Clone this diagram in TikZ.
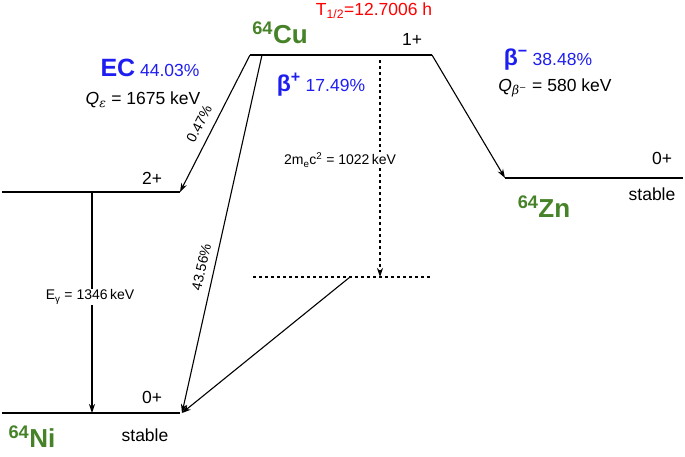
\documentclass[tikz,border=0pt]{standalone}
\usepackage{fontspec}
\setmainfont{Liberation Sans}
\usetikzlibrary{arrows.meta}
\definecolor{grn}{RGB}{70,130,40}
\definecolor{blu}{RGB}{30,30,240}
\newfontfamily\grk{DejaVu Serif}
\begin{document}
\begin{tikzpicture}[x=1pt,y=-1pt,
 lvl/.style={line width=2.2pt},
 tr/.style={-{Stealth[length=9pt,width=6pt]},line width=1.1pt},
 lab/.style={font=\fontsize{14}{16}\selectfont},
 big/.style={font=\fontsize{17.5}{20}\selectfont},
 nuc/.style={font=\fontsize{26}{28}\selectfont\bfseries,text=grn},
 pct/.style={font=\fontsize{17.5}{20}\selectfont,text=blu}]
\useasboundingbox (0,0) rectangle (685,456);
% levels
\coordinate (cuL) at (250,55); \coordinate (cuR) at (432,55);
\draw[lvl] (cuL) -- (cuR);
\draw[lvl] (2,192) -- (180,192); \coordinate (n2) at (180,192);
\draw[lvl] (2,413) -- (180,413); \coordinate (n0) at (182,413);
\draw[lvl] (505,178) -- (683,178); \coordinate (zn) at (505,178);
\draw[lvl,dashed,line width=1.6pt] (253,277) -- (432,277);
% transitions
\draw[tr] (cuL) -- (n2) node[pos=0.55,sloped,above=5pt,lab]{0.47\%};
\coordinate (c2) at (262,55);
\draw[tr] (c2) -- (n0) node[pos=0.6,sloped,above=4pt,lab]{43.56\%};
\draw[tr] (cuR) -- (zn);
\coordinate (dd) at (350,277);
\draw[tr] (dd) -- (n0);
\coordinate (g1) at (92,192); \coordinate (g2) at (92,413);
\draw[tr] (g1) -- (g2);
\node[fill=white,inner sep=1pt,lab] at (90,297) {E\textsubscript{γ} = 1346\,keV};
\coordinate (a1) at (380,60); \coordinate (a2) at (380,277);
\draw[tr,dashed] (a1) -- (a2);
\node[fill=white,inner sep=1pt,lab] at (340,160) {2m\textsubscript{e}c\textsuperscript{2} = 1022\,keV};
% labels
\node[nuc] (cu) at (280,33) {\textsuperscript{64}Cu};
\node[text=red,big] (t) at (374,11) {T\textsubscript{1/2}=12.7006 h};
\node[big] (s1) at (412,39) {1+};
\node[big] (s2) at (152,178) {2+};
\node[big] (s3) at (152,397) {0+};
\node[big] (s4) at (145,435) {stable};
\node[nuc] (ni) at (32,437) {\textsuperscript{64}Ni};
\node[big] (s5) at (662,158) {0+};
\node[big] (s6) at (652,194) {stable};
\node[nuc] (zz) at (544,207) {\textsuperscript{64}Zn};
\node[pct] (ec) at (150,68) {{\fontsize{25}{27}\selectfont\bfseries EC} 44.03\%};
\node[big] (qe) at (143,100) {\textit{Q}\textsubscript{\grk\itshape ε} = 1675 keV};
\node[pct] (bp) at (321,85) {{\fontsize{23}{25}\selectfont\bfseries β\textsuperscript{+}} 17.49\%};
\node[pct] (bm) at (548,60) {{\fontsize{23}{25}\selectfont\bfseries β\textsuperscript{−}} 38.48\%};
\node[big] (qb) at (555,88) {\textit{Q}\textsubscript{\grk\itshape β\textsuperscript{−}} = 580 keV};
\end{tikzpicture}
\end{document}
